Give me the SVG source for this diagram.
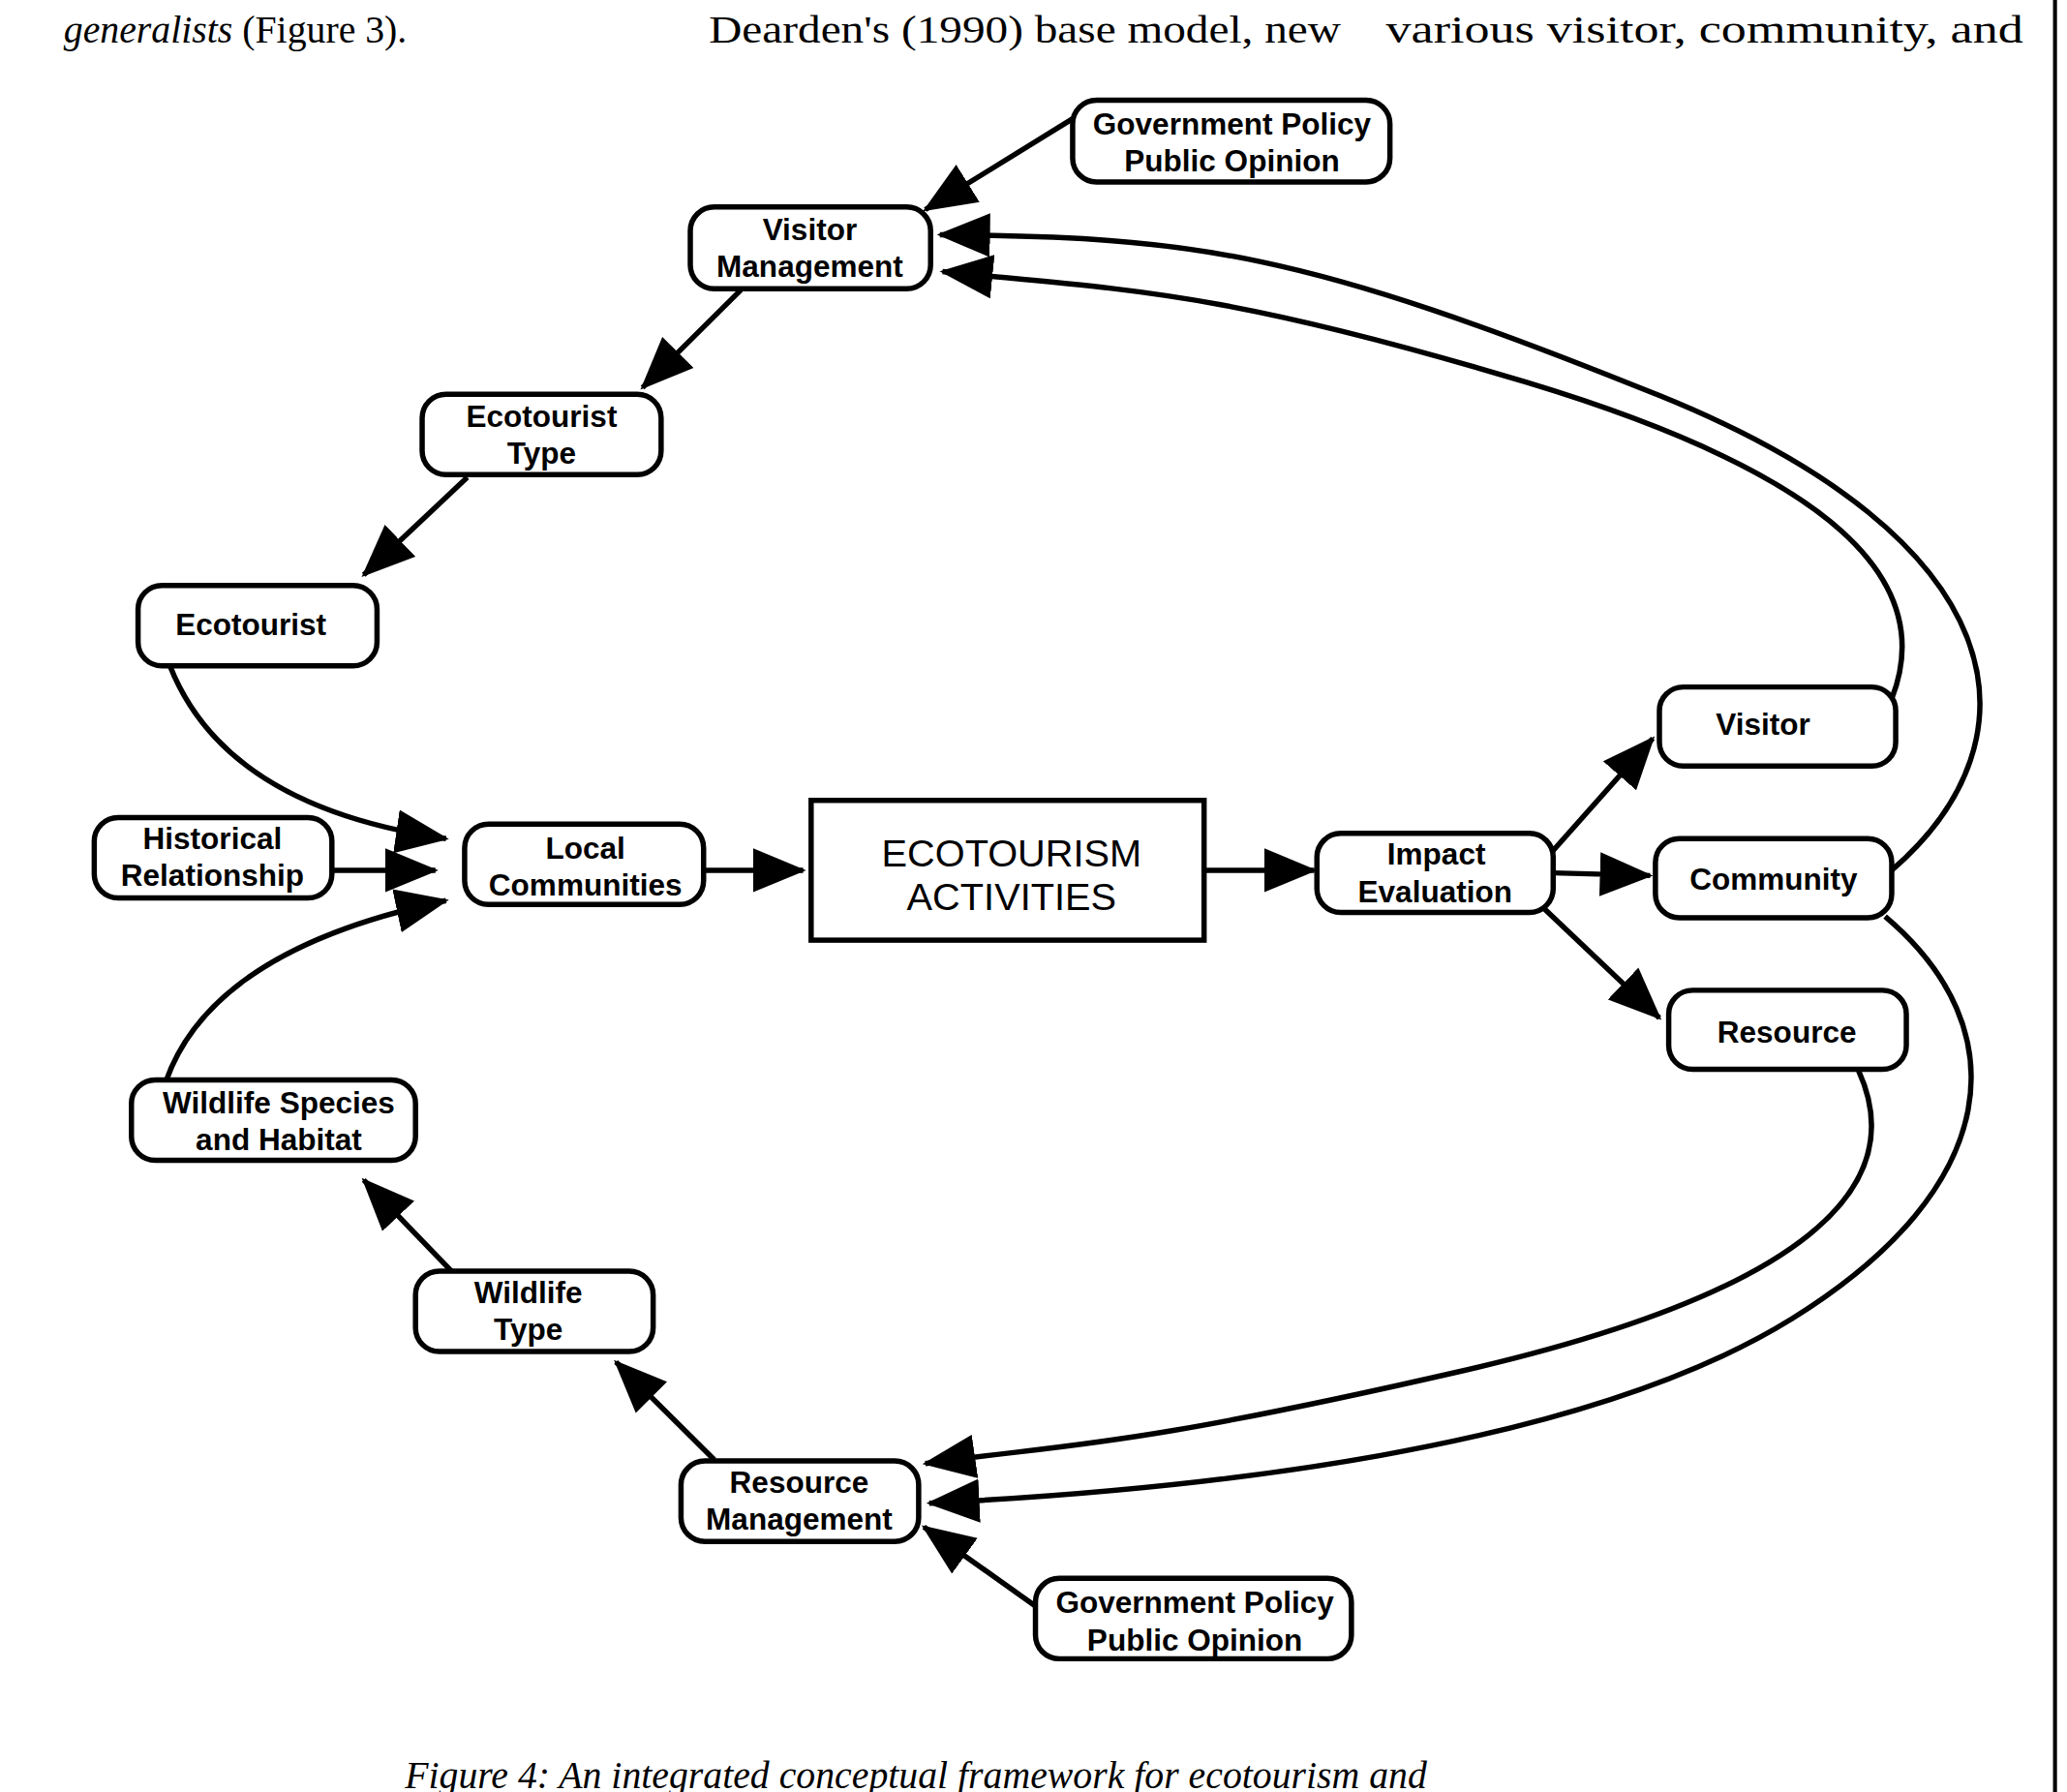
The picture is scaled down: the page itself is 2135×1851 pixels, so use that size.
<svg xmlns="http://www.w3.org/2000/svg" width="2135" height="1851" viewBox="0 0 2135 1851">
<style>
.n{fill:#fff;stroke:#000;stroke-width:4}
.t{font-family:"Liberation Sans",Arial,sans-serif;font-size:23px;font-weight:bold;text-anchor:middle;fill:#000}
.big{font-size:29px;font-weight:normal}
.c{fill:none;stroke:#000;stroke-width:4;marker-end:url(#ah)}
.s{font-family:"Liberation Serif","Times New Roman",serif;font-size:29px;fill:#000}
</style>
<defs>
<marker id="ah" markerUnits="userSpaceOnUse" markerWidth="40" markerHeight="34" refX="34" refY="15" orient="auto" viewBox="0 0 36 30">
<path d="M0,0 L36,15 L0,30 z" fill="#000"/>
</marker>
</defs>
<rect width="2135" height="1851" fill="#fff"/>
<g transform="scale(1.3712,1.362)">
<g id="header">
<text class="s" x="48" y="32"><tspan font-style="italic">generalists</tspan> (Figure 3).</text>
<text class="s" x="534" y="32" textLength="476" lengthAdjust="spacingAndGlyphs">Dearden's (1990) base model, new</text>
<text class="s" x="1044" y="32" textLength="480" lengthAdjust="spacingAndGlyphs">various visitor, community, and</text>
<line x1="1548" y1="0" x2="1548" y2="1359" stroke="#000" stroke-width="3"/>
</g>
<g id="connectors">
<path class="c" d="M808,90 L697,159"/>
<path class="c" d="M558,220 L484,294"/>
<path class="c" d="M352,362 L274,436"/>
<path class="c" d="M128,505 Q170,612 336,636"/>
<path class="c" d="M250,660 L328,660"/>
<path class="c" d="M125,820 Q160,720 336,683"/>
<path class="c" d="M530,660 L605,660"/>
<path class="c" d="M907,660 L990,660"/>
<path class="c" d="M1170,645 L1245,560"/>
<path class="c" d="M1170,662 L1243,664"/>
<path class="c" d="M1162,688 L1250,772"/>
<path class="c" d="M1425,530 C1460,440 1380,360 1150,290 S850,220 710,206"/>
<path class="c" d="M1425,660 C1540,560 1520,410 1250,300 S900,180 708,178"/>
<path class="c" d="M1400,812 C1440,900 1360,980 1100,1040 S800,1095 697,1110"/>
<path class="c" d="M1420,695 C1520,780 1510,900 1350,1000 S900,1130 700,1140"/>
<path class="c" d="M538,1107 L464,1033"/>
<path class="c" d="M340,964 L274,895"/>
<path class="c" d="M780,1218 L696,1158"/>
</g>
<g id="gov_top"><rect class="n" x="808" y="76" width="239" height="62" rx="18"/><text class="t" x="928" y="102">Government Policy</text><text class="t" x="928" y="130">Public Opinion</text></g>
<g id="visitor_mgmt"><rect class="n" x="520" y="157" width="181" height="62" rx="18"/><text class="t" x="610" y="182">Visitor</text><text class="t" x="610" y="210">Management</text></g>
<g id="ecotourist_type"><rect class="n" x="318" y="299" width="180" height="61" rx="18"/><text class="t" x="408" y="324">Ecotourist</text><text class="t" x="408" y="352">Type</text></g>
<g id="ecotourist"><rect class="n" x="104" y="444" width="180" height="61" rx="18"/><text class="t" x="189" y="482">Ecotourist</text></g>
<g id="historical"><rect class="n" x="71" y="620" width="179" height="61" rx="18"/><text class="t" x="160" y="644">Historical</text><text class="t" x="160" y="672">Relationship</text></g>
<g id="local"><rect class="n" x="350" y="625" width="180" height="61" rx="18"/><text class="t" x="441" y="651">Local</text><text class="t" x="441" y="679">Communities</text></g>
<g id="activities"><rect x="611" y="607" width="296" height="106" fill="#fff" stroke="#000" stroke-width="4"/><text class="t big" x="762" y="657">ECOTOURISM</text><text class="t big" x="762" y="690">ACTIVITIES</text></g>
<g id="impact"><rect class="n" x="992" y="632" width="178" height="60" rx="18"/><text class="t" x="1082" y="656">Impact</text><text class="t" x="1081" y="684">Evaluation</text></g>
<g id="visitor"><rect class="n" x="1250" y="521" width="178" height="60" rx="18"/><text class="t" x="1328" y="557">Visitor</text></g>
<g id="community"><rect class="n" x="1247" y="636" width="178" height="60" rx="18"/><text class="t" x="1336" y="675">Community</text></g>
<g id="resource"><rect class="n" x="1257" y="751" width="179" height="60" rx="18"/><text class="t" x="1346" y="791">Resource</text></g>
<g id="wildlife_species"><rect class="n" x="99" y="819" width="214" height="61" rx="18"/><text class="t" x="210" y="844">Wildlife Species</text><text class="t" x="210" y="872">and Habitat</text></g>
<g id="wildlife_type"><rect class="n" x="313" y="964" width="179" height="61" rx="18"/><text class="t" x="398" y="988">Wildlife</text><text class="t" x="398" y="1016">Type</text></g>
<g id="resource_mgmt"><rect class="n" x="513" y="1108" width="179" height="61" rx="18"/><text class="t" x="602" y="1132">Resource</text><text class="t" x="602" y="1160">Management</text></g>
<g id="gov_bottom"><rect class="n" x="780" y="1197" width="238" height="61" rx="18"/><text class="t" x="900" y="1223">Government Policy</text><text class="t" x="900" y="1252">Public Opinion</text></g>
<text class="s" x="305" y="1356" font-style="italic" font-size="26">Figure 4: An integrated conceptual framework for ecotourism and</text>
</g>
</svg>
